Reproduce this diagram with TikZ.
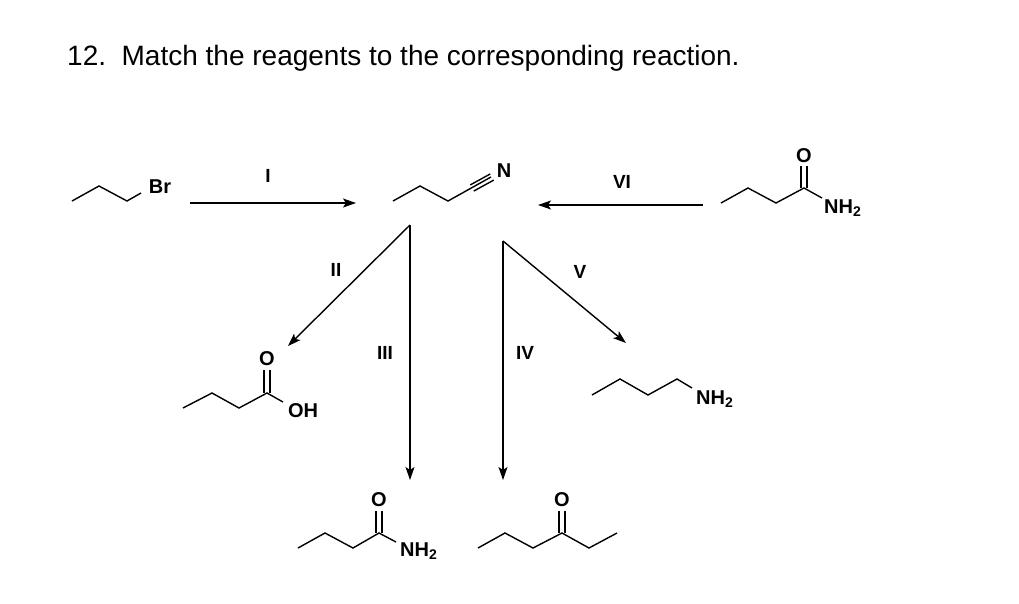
\documentclass[tikz,border=0pt]{standalone}
\usepackage{fontspec}
\setmainfont{Liberation Sans}
\usetikzlibrary{arrows.meta}
\begin{document}
\begin{tikzpicture}[x=1pt,y=-1pt,
  bond/.style={line width=1.4pt},
  rxn/.style={line width=1.4pt,-{Stealth[length=13pt,width=9pt,inset=3pt]}},
  atom/.style={font=\fontsize{20}{20}\selectfont\bfseries,inner sep=0pt},
  lab/.style={font=\fontsize{19}{19}\selectfont\bfseries,inner sep=0pt}]
\useasboundingbox (0,0) rectangle (1019,603);
\node[anchor=base west,inner sep=0pt,font=\fontsize{28}{28}\selectfont] (title) at (67,65) {12.\ \ Match the reagents to the corresponding reaction.};
% bromopropane
\draw[bond] (72,201)--(99,186)--(127,201)--(141,193);
\node[atom] (br) at (160,187) {Br};
% arrow I
\coordinate (a1) at (190,203); \coordinate (b1) at (356,203);
\draw[rxn] (a1)--(b1);
\node[lab] (l1) at (268,176) {I};
% nitrile
\draw[bond] (393,201)--(420,186)--(448,201)--(491,177);
\draw[bond] (472,188)+(-1.7,-3.1)--+(18.3,-14.1);
\draw[bond] (472,188)+(1.7,3.1)--+(21.7,-7.9);
\node[atom] (n) at (504,171) {N};
% arrow VI
\coordinate (a6) at (703,205); \coordinate (b6) at (538,205);
\draw[rxn] (a6)--(b6);
\node[lab] (l6) at (622,182) {VI};
% amide right
\draw[bond] (721,203)--(748,188)--(776,203)--(804,188)--(822,198);
\draw[bond] (801,188)--(801,166) (807,188)--(807,166);
\node[atom] (o1) at (804,156) {O};
\node[atom,anchor=west] (nh1) at (824,208) {NH$_\mathbf{2}$};
% arrows II-V
\coordinate (t2) at (410,225); \coordinate (e2) at (288,346);
\draw[rxn] (t2)--(e2);
\node[lab] (l2) at (336,270) {II};
\coordinate (e3) at (410,480);
\draw[rxn] (t2)--(e3);
\node[lab] (l3) at (385,353) {III};
\coordinate (t4) at (503,241); \coordinate (e4) at (503,480);
\draw[rxn] (t4)--(e4);
\node[lab] (l4) at (525,353) {IV};
\coordinate (e5) at (626,343);
\draw[rxn] (t4)--(e5);
\node[lab] (l5) at (580,272) {V};
% acid
\draw[bond] (183,408)--(212,393)--(239,408)--(267,393)--(283,402);
\draw[bond] (264,393)--(264,370) (270,393)--(270,370);
\node[atom] (o2) at (267,359) {O};
\node[atom] (oh) at (303,411) {OH};
% amine
\draw[bond] (592,395)--(620,379)--(648,395)--(677,379)--(692,388);
\node[atom,anchor=west] (nh3) at (696,399) {NH$_\mathbf{2}$};
% amide bottom
\draw[bond] (298,548)--(325,533)--(353,548)--(379,533)--(396,542);
\draw[bond] (376,533)--(376,511) (382,533)--(382,511);
\node[atom] (o3) at (379,500) {O};
\node[atom,anchor=west] (nh2) at (400,551) {NH$_\mathbf{2}$};
% ketone
\draw[bond] (478,548)--(505,533)--(533,548)--(562,533)--(589,548)--(617,533);
\draw[bond] (559,533)--(559,511) (565,533)--(565,511);
\node[atom] (o4) at (562,500) {O};
\end{tikzpicture}
\end{document}
